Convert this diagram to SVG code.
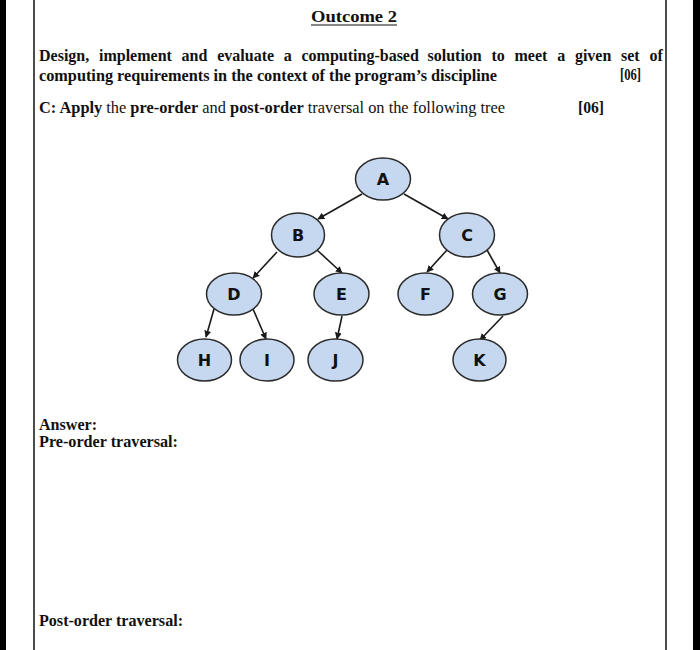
<svg xmlns="http://www.w3.org/2000/svg" width="700" height="650" viewBox="0 0 700 650">
<style>
.t{font-family:"Liberation Serif","Times New Roman",serif;fill:#111;font-size:16px}
.b{font-weight:bold}
.node ellipse{fill:#c6d8ef;stroke:#2b2b2b;stroke-width:1.5}
.node text{font-family:"DejaVu Sans","Liberation Sans",sans-serif;font-weight:bold;font-size:16px;fill:#111;text-anchor:middle}
.edges line{stroke:#1a1a1a;stroke-width:1.6}
</style>
<defs>
<marker id="ah" viewBox="0 0 10 10" refX="9" refY="5" markerWidth="7" markerHeight="7" markerUnits="userSpaceOnUse" orient="auto">
<path d="M0,0 L10,5 L0,10 z" fill="#1a1a1a"/>
</marker>
</defs>
<rect x="0" y="0" width="700" height="650" fill="#fff"/>
<rect x="0" y="0" width="6" height="650" fill="#000"/>
<rect x="693" y="0" width="7" height="650" fill="#000"/>
<line x1="34" y1="0" x2="34" y2="650" stroke="#111" stroke-width="1.5"/>
<line x1="666" y1="0" x2="666" y2="650" stroke="#111" stroke-width="1.5"/>

<g id="header">
<text class="t b" x="311" y="22" textLength="86" lengthAdjust="spacingAndGlyphs" font-size="17">Outcome 2</text>
<line x1="311" y1="25" x2="397" y2="25" stroke="#111" stroke-width="1.2"/>
<text class="t b" y="61">
<tspan x="39">Design,</tspan>
<tspan x="99">implement</tspan>
<tspan x="181.6">and</tspan>
<tspan x="217.2">evaluate</tspan>
<tspan x="283.8">a</tspan>
<tspan x="301.5">computing-based</tspan>
<tspan x="427.5">solution</tspan>
<tspan x="491.5">to</tspan>
<tspan x="514.5">meet</tspan>
<tspan x="557.2">a</tspan>
<tspan x="574.9">given</tspan>
<tspan x="621">set</tspan>
<tspan x="649.4">of</tspan>
</text>
<text class="t b" x="39" y="81" textLength="458" lengthAdjust="spacingAndGlyphs">computing requirements in the context of the program’s discipline</text>
<text class="t b" x="620" y="80" font-size="13" textLength="21" lengthAdjust="spacingAndGlyphs">[06]</text>
<text class="t" x="39" y="113" textLength="466" lengthAdjust="spacingAndGlyphs"><tspan class="b">C:  Apply</tspan> the <tspan class="b">pre-order</tspan> and <tspan class="b">post-order</tspan> traversal on the following tree</text>
<text class="t b" x="578" y="113" textLength="26" lengthAdjust="spacingAndGlyphs">[06]</text>
</g>

<g class="edges" id="connectors">
<line x1="362" y1="194" x2="318" y2="219" marker-end="url(#ah)"/>
<line x1="404" y1="194" x2="448" y2="219" marker-end="url(#ah)"/>
<line x1="277" y1="252" x2="253" y2="278" marker-end="url(#ah)"/>
<line x1="317" y1="250" x2="342" y2="273" marker-end="url(#ah)"/>
<line x1="447" y1="250" x2="427" y2="272" marker-end="url(#ah)"/>
<line x1="487" y1="250" x2="500" y2="273" marker-end="url(#ah)"/>
<line x1="214" y1="309" x2="206" y2="337" marker-end="url(#ah)"/>
<line x1="253" y1="309" x2="266" y2="339" marker-end="url(#ah)"/>
<line x1="342" y1="316" x2="337" y2="339" marker-end="url(#ah)"/>
<line x1="503" y1="316" x2="480" y2="340" marker-end="url(#ah)"/>
</g>

<g id="nA" class="node"><ellipse cx="383" cy="179" rx="27.5" ry="21"/><text x="383" y="185">A</text></g>
<g id="nB" class="node"><ellipse cx="298" cy="235" rx="26.5" ry="22"/><text x="298" y="241">B</text></g>
<g id="nC" class="node"><ellipse cx="467" cy="235" rx="27.5" ry="22"/><text x="467" y="241">C</text></g>
<g id="nD" class="node"><ellipse cx="234" cy="294" rx="27.5" ry="21"/><text x="234" y="300">D</text></g>
<g id="nE" class="node"><ellipse cx="341.5" cy="294" rx="27.5" ry="21"/><text x="341.5" y="300">E</text></g>
<g id="nF" class="node"><ellipse cx="425.5" cy="294" rx="27.5" ry="21"/><text x="425.5" y="300">F</text></g>
<g id="nG" class="node"><ellipse cx="500" cy="294" rx="27.5" ry="21"/><text x="500" y="300">G</text></g>
<g id="nH" class="node"><ellipse cx="204.5" cy="360" rx="27" ry="21"/><text x="204.5" y="366">H</text></g>
<g id="nI" class="node"><ellipse cx="267" cy="360" rx="27" ry="21"/><text x="267" y="366">I</text></g>
<g id="nJ" class="node"><ellipse cx="335.5" cy="360" rx="27.5" ry="21"/><text x="335.5" y="366">J</text></g>
<g id="nK" class="node"><ellipse cx="479.5" cy="360" rx="26.5" ry="21"/><text x="479.5" y="366">K</text></g>

<g id="answer">
<text class="t b" x="39" y="430" textLength="58" lengthAdjust="spacingAndGlyphs">Answer:</text>
<text class="t b" x="39" y="447" textLength="139" lengthAdjust="spacingAndGlyphs">Pre-order traversal:</text>
<text class="t b" x="39" y="626" textLength="144" lengthAdjust="spacingAndGlyphs">Post-order traversal:</text>
</g>
</svg>
